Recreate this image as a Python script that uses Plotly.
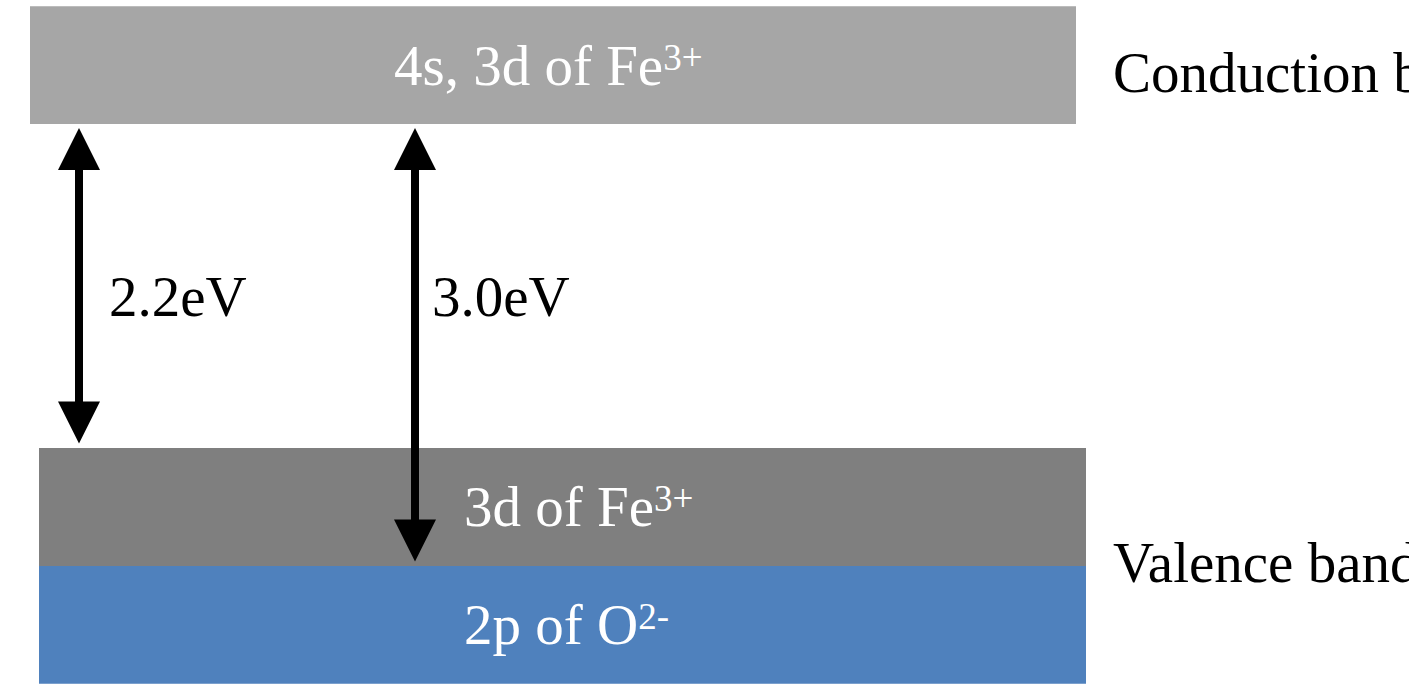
import plotly.graph_objects as go

# ---- data (energies in eV, relative to top of the Fe3+ 3d band) ----
band_names = ["4s, 3d of Fe", "3d of Fe", "2p of O"]
band_charges = ["3+", "3+", "2-"]
band_top_eV = [3.0, 0.0, -0.8]
band_bottom_eV = [2.2, -0.8, -1.6]

gap_labels = ["2.2eV", "3.0eV"]
gap_from_eV = [0.0, -0.8]
gap_to_eV = [2.2, 2.2]

region_labels = ["Conduction band", "Valence band"]

# ---- layout / style constants ----
W, H = 1409, 697
band_x0 = [30, 39, 39]
band_x1 = [1076, 1086, 1086]
band_colors = ["#a6a6a6", "#7f7f7f", "#4f81bd"]
band_label_x = [392, 462, 462]
arrow_x = [79, 415]
gap_label_x = [107, 430]
gap_label_y = 1.03
region_label_x = 1111
region_label_y = [2.55, -0.78]
y_range = [-1.690, 3.042]
FONT = "Liberation Serif"
FS = 57
SUP = '<span style="font-size:37px;baseline-shift:15px">{}</span>'

fig = go.Figure()

for i in range(len(band_names)):
    fig.add_shape(type="rect", xref="x", yref="y",
                  x0=band_x0[i], x1=band_x1[i],
                  y0=band_bottom_eV[i], y1=band_top_eV[i],
                  fillcolor=band_colors[i], line=dict(width=0), layer="below")
    fig.add_annotation(x=band_label_x[i], y=(band_top_eV[i] + band_bottom_eV[i]) / 2,
                       xref="x", yref="y",
                       text=band_names[i] + SUP.format(band_charges[i]),
                       showarrow=False, xanchor="left", yanchor="middle",
                       font=dict(family=FONT, size=FS, color="white"))

for i in range(len(gap_labels)):
    fig.add_annotation(x=arrow_x[i], y=gap_to_eV[i], ax=arrow_x[i], ay=gap_from_eV[i],
                       xref="x", yref="y", axref="x", ayref="y", text="",
                       showarrow=True, arrowside="end+start",
                       arrowhead=2, startarrowhead=2,
                       arrowsize=1.05, startarrowsize=1.05,
                       arrowwidth=8, arrowcolor="black",
                       standoff=4, startstandoff=3)
    fig.add_annotation(x=gap_label_x[i], y=gap_label_y, xref="x", yref="y",
                       text=gap_labels[i], showarrow=False,
                       xanchor="left", yanchor="middle",
                       font=dict(family=FONT, size=FS, color="black"))

for i in range(len(region_labels)):
    fig.add_annotation(x=region_label_x, y=region_label_y[i], xref="x", yref="y",
                       text=region_labels[i], showarrow=False,
                       xanchor="left", yanchor="middle",
                       font=dict(family=FONT, size=FS, color="black"))

fig.update_layout(
    width=W, height=H,
    margin=dict(l=0, r=0, t=0, b=0),
    paper_bgcolor="white", plot_bgcolor="white",
    showlegend=False,
    xaxis=dict(range=[0, W], visible=False, fixedrange=True),
    yaxis=dict(range=y_range, visible=False, fixedrange=True),
)

fig.write_html("out.html", config={"displayModeBar": False},
               post_script="document.body.style.margin='0';document.body.style.overflow='hidden';")
